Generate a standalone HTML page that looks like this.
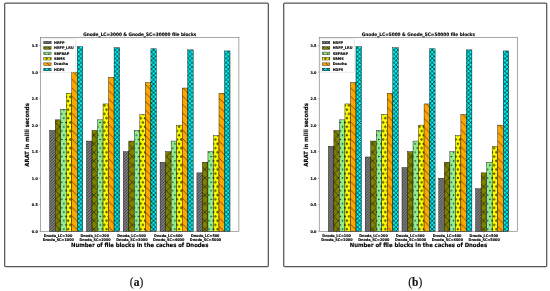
<!DOCTYPE html>
<html lang="en"><head><meta charset="utf-8"><title>ARAT comparison</title>
<style>html,body{margin:0;padding:0;background:#fff}body{width:550px;height:291px;overflow:hidden}svg{display:block}.s{font-family:"DejaVu Sans","Liberation Sans",sans-serif;font-weight:bold;fill:#000}.s text{stroke:#000;stroke-width:0.14px}.c{font-family:"Liberation Serif","DejaVu Serif",serif;fill:#111}</style></head><body>
<svg width="550" height="291" viewBox="0 0 550 291">
<defs>
<pattern id="pg" patternUnits="userSpaceOnUse" x="8.36" y="7.16" width="8.54" height="8.54">
<rect width="8.54" height="8.54" fill="#808080"/>
<path d="M-8.54 0L17.08 -25.62M-8.54 2.847L17.08 -22.773M-8.54 5.693L17.08 -19.927M-8.54 8.54L17.08 -17.08M-8.54 11.387L17.08 -14.233M-8.54 14.233L17.08 -11.387M-8.54 17.08L17.08 -8.54M-8.54 19.927L17.08 -5.693M-8.54 22.773L17.08 -2.847M-8.54 25.62L17.08 0" stroke="#000" stroke-width="0.5" fill="none"/>
</pattern>
<pattern id="po" patternUnits="userSpaceOnUse" x="8.36" y="7.16" width="8.54" height="8.54">
<rect width="8.54" height="8.54" fill="#808000"/>
<path d="M-8.54 0L17.08 -25.62M-8.54 8.54L17.08 -17.08M-8.54 17.08L17.08 -8.54M-8.54 25.62L17.08 0M-8.54 -25.62L17.08 0M-8.54 -17.08L17.08 8.54M-8.54 -8.54L17.08 17.08M-8.54 0L17.08 25.62M-8.54 8.54L17.08 34.16" stroke="#000" stroke-width="0.5" fill="none"/>
</pattern>
<pattern id="pn" patternUnits="userSpaceOnUse" x="8.36" y="7.16" width="8.54" height="8.54">
<rect width="8.54" height="8.54" fill="#90ee90"/>
<g fill="#000"><circle cx="0" cy="0" r="0.75"/><circle cx="4.27" cy="0" r="0.75"/><circle cx="8.54" cy="0" r="0.75"/><circle cx="0" cy="8.54" r="0.75"/><circle cx="4.27" cy="8.54" r="0.75"/><circle cx="8.54" cy="8.54" r="0.75"/><circle cx="2.135" cy="4.27" r="0.75"/><circle cx="6.405" cy="4.27" r="0.75"/></g>
</pattern>
<pattern id="py" patternUnits="userSpaceOnUse" x="8.36" y="7.16" width="8.54" height="8.54">
<rect width="8.54" height="8.54" fill="#ffff00"/>
<g fill="none" stroke="#000" stroke-width="0.8"><circle cx="0" cy="0" r="0.8"/><circle cx="4.27" cy="0" r="0.8"/><circle cx="8.54" cy="0" r="0.8"/><circle cx="0" cy="8.54" r="0.8"/><circle cx="4.27" cy="8.54" r="0.8"/><circle cx="8.54" cy="8.54" r="0.8"/><circle cx="2.135" cy="4.27" r="0.8"/><circle cx="6.405" cy="4.27" r="0.8"/></g>
</pattern>
<pattern id="pr" patternUnits="userSpaceOnUse" x="8.36" y="7.16" width="8.54" height="8.54">
<rect width="8.54" height="8.54" fill="#ffa500"/>
<path d="M-8.54 -25.62L17.08 0M-8.54 -17.08L17.08 8.54M-8.54 -8.54L17.08 17.08M-8.54 0L17.08 25.62M-8.54 8.54L17.08 34.16" stroke="#000" stroke-width="0.5" fill="none"/>
</pattern>
<pattern id="pc" patternUnits="userSpaceOnUse" x="8.36" y="7.16" width="8.54" height="8.54">
<rect width="8.54" height="8.54" fill="#00ffff"/>
<path d="M-8.54 0L17.08 -25.62M-8.54 4.27L17.08 -21.35M-8.54 8.54L17.08 -17.08M-8.54 12.81L17.08 -12.81M-8.54 17.08L17.08 -8.54M-8.54 21.35L17.08 -4.27M-8.54 25.62L17.08 0M-8.54 -25.62L17.08 0M-8.54 -21.35L17.08 4.27M-8.54 -17.08L17.08 8.54M-8.54 -12.81L17.08 12.81M-8.54 -8.54L17.08 17.08M-8.54 -4.27L17.08 21.35M-8.54 0L17.08 25.62M-8.54 4.27L17.08 29.89M-8.54 8.54L17.08 34.16" stroke="#000" stroke-width="0.75" fill="none"/>
</pattern>
</defs>
<rect width="550" height="291" fill="#fff"/>
<rect x="4.65" y="3.2" width="263.7" height="263.3" rx="0.9" fill="#fff" stroke="#575757" stroke-width="1.25"/>
<g class="s" transform="translate(0,0)">
<rect x="49.67" y="130.45" width="5.52" height="100.75" fill="url(#pg)" stroke="#000" stroke-width="0.4"/>
<rect x="55.19" y="119.85" width="5.52" height="111.35" fill="url(#po)" stroke="#000" stroke-width="0.4"/>
<rect x="60.71" y="109.24" width="5.52" height="121.96" fill="url(#pn)" stroke="#000" stroke-width="0.4"/>
<rect x="66.23" y="93.34" width="5.52" height="137.86" fill="url(#py)" stroke="#000" stroke-width="0.4"/>
<rect x="71.75" y="72.13" width="5.52" height="159.07" fill="url(#pr)" stroke="#000" stroke-width="0.4"/>
<rect x="77.27" y="46.68" width="5.52" height="184.52" fill="url(#pc)" stroke="#000" stroke-width="0.4"/>
<rect x="86.48" y="141.06" width="5.52" height="90.14" fill="url(#pg)" stroke="#000" stroke-width="0.4"/>
<rect x="92.00" y="130.45" width="5.52" height="100.75" fill="url(#po)" stroke="#000" stroke-width="0.4"/>
<rect x="97.52" y="119.85" width="5.52" height="111.35" fill="url(#pn)" stroke="#000" stroke-width="0.4"/>
<rect x="103.04" y="103.94" width="5.52" height="127.26" fill="url(#py)" stroke="#000" stroke-width="0.4"/>
<rect x="108.56" y="77.43" width="5.52" height="153.77" fill="url(#pr)" stroke="#000" stroke-width="0.4"/>
<rect x="114.08" y="47.74" width="5.52" height="183.46" fill="url(#pc)" stroke="#000" stroke-width="0.4"/>
<rect x="123.29" y="151.66" width="5.52" height="79.54" fill="url(#pg)" stroke="#000" stroke-width="0.4"/>
<rect x="128.81" y="141.06" width="5.52" height="90.14" fill="url(#po)" stroke="#000" stroke-width="0.4"/>
<rect x="134.33" y="130.45" width="5.52" height="100.75" fill="url(#pn)" stroke="#000" stroke-width="0.4"/>
<rect x="139.85" y="114.55" width="5.52" height="116.65" fill="url(#py)" stroke="#000" stroke-width="0.4"/>
<rect x="145.37" y="82.73" width="5.52" height="148.47" fill="url(#pr)" stroke="#000" stroke-width="0.4"/>
<rect x="150.89" y="48.80" width="5.52" height="182.40" fill="url(#pc)" stroke="#000" stroke-width="0.4"/>
<rect x="160.09" y="162.27" width="5.52" height="68.93" fill="url(#pg)" stroke="#000" stroke-width="0.4"/>
<rect x="165.62" y="151.66" width="5.52" height="79.54" fill="url(#po)" stroke="#000" stroke-width="0.4"/>
<rect x="171.14" y="141.06" width="5.52" height="90.14" fill="url(#pn)" stroke="#000" stroke-width="0.4"/>
<rect x="176.66" y="125.15" width="5.52" height="106.05" fill="url(#py)" stroke="#000" stroke-width="0.4"/>
<rect x="182.18" y="88.03" width="5.52" height="143.17" fill="url(#pr)" stroke="#000" stroke-width="0.4"/>
<rect x="187.70" y="49.86" width="5.52" height="181.34" fill="url(#pc)" stroke="#000" stroke-width="0.4"/>
<rect x="196.90" y="172.87" width="5.52" height="58.33" fill="url(#pg)" stroke="#000" stroke-width="0.4"/>
<rect x="202.43" y="162.27" width="5.52" height="68.93" fill="url(#po)" stroke="#000" stroke-width="0.4"/>
<rect x="207.95" y="151.66" width="5.52" height="79.54" fill="url(#pn)" stroke="#000" stroke-width="0.4"/>
<rect x="213.47" y="135.76" width="5.52" height="95.44" fill="url(#py)" stroke="#000" stroke-width="0.4"/>
<rect x="218.99" y="93.34" width="5.52" height="137.86" fill="url(#pr)" stroke="#000" stroke-width="0.4"/>
<rect x="224.51" y="50.92" width="5.52" height="180.28" fill="url(#pc)" stroke="#000" stroke-width="0.4"/>
<rect x="40.5" y="37.45" width="198.4" height="193.8" fill="none" stroke="#000" stroke-opacity="0.62" stroke-width="0.55"/>
<path d="M39.00 231.20H40.5" stroke="#000" stroke-opacity="0.6" stroke-width="0.4"/>
<text transform="translate(37.80,232.85) scale(0.92,1)" font-size="3.696" text-anchor="end">0.0</text>
<path d="M39.00 204.69H40.5" stroke="#000" stroke-opacity="0.6" stroke-width="0.4"/>
<text transform="translate(37.80,206.34) scale(0.92,1)" font-size="3.696" text-anchor="end">0.5</text>
<path d="M39.00 178.18H40.5" stroke="#000" stroke-opacity="0.6" stroke-width="0.4"/>
<text transform="translate(37.80,179.83) scale(0.92,1)" font-size="3.696" text-anchor="end">1.0</text>
<path d="M39.00 151.66H40.5" stroke="#000" stroke-opacity="0.6" stroke-width="0.4"/>
<text transform="translate(37.80,153.31) scale(0.92,1)" font-size="3.696" text-anchor="end">1.5</text>
<path d="M39.00 125.15H40.5" stroke="#000" stroke-opacity="0.6" stroke-width="0.4"/>
<text transform="translate(37.80,126.80) scale(0.92,1)" font-size="3.696" text-anchor="end">2.0</text>
<path d="M39.00 98.64H40.5" stroke="#000" stroke-opacity="0.6" stroke-width="0.4"/>
<text transform="translate(37.80,100.29) scale(0.92,1)" font-size="3.696" text-anchor="end">2.5</text>
<path d="M39.00 72.13H40.5" stroke="#000" stroke-opacity="0.6" stroke-width="0.4"/>
<text transform="translate(37.80,73.78) scale(0.92,1)" font-size="3.696" text-anchor="end">3.0</text>
<path d="M39.00 45.62H40.5" stroke="#000" stroke-opacity="0.6" stroke-width="0.4"/>
<text transform="translate(37.80,47.27) scale(0.92,1)" font-size="3.696" text-anchor="end">3.5</text>
<path d="M57.95 231.2v1.6" stroke="#000" stroke-opacity="0.6" stroke-width="0.4"/>
<text transform="translate(57.95,236.50) scale(0.92,1)" font-size="3.696" text-anchor="middle">Dnode_LC=100</text>
<text transform="translate(58.25,240.70) scale(0.92,1)" font-size="3.696" text-anchor="middle">Dnode_SC=1000</text>
<path d="M94.76 231.2v1.6" stroke="#000" stroke-opacity="0.6" stroke-width="0.4"/>
<text transform="translate(94.76,236.50) scale(0.92,1)" font-size="3.696" text-anchor="middle">Dnode_LC=200</text>
<text transform="translate(95.06,240.70) scale(0.92,1)" font-size="3.696" text-anchor="middle">Dnode_SC=2000</text>
<path d="M131.57 231.2v1.6" stroke="#000" stroke-opacity="0.6" stroke-width="0.4"/>
<text transform="translate(131.57,236.50) scale(0.92,1)" font-size="3.696" text-anchor="middle">Dnode_LC=300</text>
<text transform="translate(131.87,240.70) scale(0.92,1)" font-size="3.696" text-anchor="middle">Dnode_SC=3000</text>
<path d="M168.38 231.2v1.6" stroke="#000" stroke-opacity="0.6" stroke-width="0.4"/>
<text transform="translate(168.38,236.50) scale(0.92,1)" font-size="3.696" text-anchor="middle">Dnode_LC=400</text>
<text transform="translate(168.68,240.70) scale(0.92,1)" font-size="3.696" text-anchor="middle">Dnode_SC=4000</text>
<path d="M205.19 231.2v1.6" stroke="#000" stroke-opacity="0.6" stroke-width="0.4"/>
<text transform="translate(205.19,236.50) scale(0.92,1)" font-size="3.696" text-anchor="middle">Dnode_LC=500</text>
<text transform="translate(205.49,240.70) scale(0.92,1)" font-size="3.696" text-anchor="middle">Dnode_SC=5000</text>
<text transform="translate(139.70,35.70) scale(0.92,1)" font-size="4.63" text-anchor="middle">Gnode_LC=3000 &amp; Gnode_SC=30000 file blocks</text>
<text transform="translate(139.70,247.20) scale(0.92,1)" font-size="5.793" text-anchor="middle">Number of file blocks in the caches of Dnodes</text>
<text transform="translate(29.20,134.92) rotate(-90) scale(0.92,1)" font-size="5.761" text-anchor="middle">ARAT in milli seconds</text>
<rect x="41.5" y="38.7" width="34.2" height="33.6" rx="0.8" fill="#fff" fill-opacity="0.8" stroke="#ccc" stroke-width="0.4"/>
<rect x="43.80" y="41.30" width="7.3" height="2.5" fill="url(#pg)" stroke="#000" stroke-width="0.4"/>
<text transform="translate(54.00,43.85) scale(0.92,1)" font-size="3.75" text-anchor="start">HRFP</text>
<rect x="43.80" y="46.70" width="7.3" height="2.5" fill="url(#po)" stroke="#000" stroke-width="0.4"/>
<text transform="translate(54.00,49.25) scale(0.92,1)" font-size="3.75" text-anchor="start">HRFP_LRU</text>
<rect x="43.80" y="52.10" width="7.3" height="2.5" fill="url(#pn)" stroke="#000" stroke-width="0.4"/>
<text transform="translate(54.00,54.65) scale(0.92,1)" font-size="3.75" text-anchor="start">SBFBAP</text>
<rect x="43.80" y="57.50" width="7.3" height="2.5" fill="url(#py)" stroke="#000" stroke-width="0.4"/>
<text transform="translate(54.00,60.05) scale(0.92,1)" font-size="3.75" text-anchor="start">SBMS</text>
<rect x="43.80" y="62.90" width="7.3" height="2.5" fill="url(#pr)" stroke="#000" stroke-width="0.4"/>
<text transform="translate(54.00,65.45) scale(0.92,1)" font-size="3.75" text-anchor="start">Dcache</text>
<rect x="43.80" y="68.30" width="7.3" height="2.5" fill="url(#pc)" stroke="#000" stroke-width="0.4"/>
<text transform="translate(54.00,70.85) scale(0.92,1)" font-size="3.75" text-anchor="start">HDFS</text>
</g>
<text class="c" x="136.5" y="285.7" font-size="11.5" stroke="#111" stroke-width="0.15" text-anchor="middle">(<tspan font-weight="bold">a</tspan>)</text>
<rect x="283.7" y="3.2" width="263.0" height="263.3" rx="0.9" fill="#fff" stroke="#575757" stroke-width="1.25"/>
<g class="s" transform="translate(278.7,0)">
<rect x="49.67" y="146.36" width="5.52" height="84.84" fill="url(#pg)" stroke="#000" stroke-width="0.4"/>
<rect x="55.19" y="130.45" width="5.52" height="100.75" fill="url(#po)" stroke="#000" stroke-width="0.4"/>
<rect x="60.71" y="119.85" width="5.52" height="111.35" fill="url(#pn)" stroke="#000" stroke-width="0.4"/>
<rect x="66.23" y="103.94" width="5.52" height="127.26" fill="url(#py)" stroke="#000" stroke-width="0.4"/>
<rect x="71.75" y="82.73" width="5.52" height="148.47" fill="url(#pr)" stroke="#000" stroke-width="0.4"/>
<rect x="77.27" y="46.68" width="5.52" height="184.52" fill="url(#pc)" stroke="#000" stroke-width="0.4"/>
<rect x="86.48" y="156.97" width="5.52" height="74.23" fill="url(#pg)" stroke="#000" stroke-width="0.4"/>
<rect x="92.00" y="141.06" width="5.52" height="90.14" fill="url(#po)" stroke="#000" stroke-width="0.4"/>
<rect x="97.52" y="130.45" width="5.52" height="100.75" fill="url(#pn)" stroke="#000" stroke-width="0.4"/>
<rect x="103.04" y="114.55" width="5.52" height="116.65" fill="url(#py)" stroke="#000" stroke-width="0.4"/>
<rect x="108.56" y="93.34" width="5.52" height="137.86" fill="url(#pr)" stroke="#000" stroke-width="0.4"/>
<rect x="114.08" y="47.74" width="5.52" height="183.46" fill="url(#pc)" stroke="#000" stroke-width="0.4"/>
<rect x="123.29" y="167.57" width="5.52" height="63.63" fill="url(#pg)" stroke="#000" stroke-width="0.4"/>
<rect x="128.81" y="151.66" width="5.52" height="79.54" fill="url(#po)" stroke="#000" stroke-width="0.4"/>
<rect x="134.33" y="141.06" width="5.52" height="90.14" fill="url(#pn)" stroke="#000" stroke-width="0.4"/>
<rect x="139.85" y="125.15" width="5.52" height="106.05" fill="url(#py)" stroke="#000" stroke-width="0.4"/>
<rect x="145.37" y="103.94" width="5.52" height="127.26" fill="url(#pr)" stroke="#000" stroke-width="0.4"/>
<rect x="150.89" y="48.80" width="5.52" height="182.40" fill="url(#pc)" stroke="#000" stroke-width="0.4"/>
<rect x="160.09" y="178.18" width="5.52" height="53.02" fill="url(#pg)" stroke="#000" stroke-width="0.4"/>
<rect x="165.62" y="162.27" width="5.52" height="68.93" fill="url(#po)" stroke="#000" stroke-width="0.4"/>
<rect x="171.14" y="151.66" width="5.52" height="79.54" fill="url(#pn)" stroke="#000" stroke-width="0.4"/>
<rect x="176.66" y="135.76" width="5.52" height="95.44" fill="url(#py)" stroke="#000" stroke-width="0.4"/>
<rect x="182.18" y="114.55" width="5.52" height="116.65" fill="url(#pr)" stroke="#000" stroke-width="0.4"/>
<rect x="187.70" y="49.86" width="5.52" height="181.34" fill="url(#pc)" stroke="#000" stroke-width="0.4"/>
<rect x="196.90" y="188.78" width="5.52" height="42.42" fill="url(#pg)" stroke="#000" stroke-width="0.4"/>
<rect x="202.43" y="172.87" width="5.52" height="58.33" fill="url(#po)" stroke="#000" stroke-width="0.4"/>
<rect x="207.95" y="162.27" width="5.52" height="68.93" fill="url(#pn)" stroke="#000" stroke-width="0.4"/>
<rect x="213.47" y="146.36" width="5.52" height="84.84" fill="url(#py)" stroke="#000" stroke-width="0.4"/>
<rect x="218.99" y="125.15" width="5.52" height="106.05" fill="url(#pr)" stroke="#000" stroke-width="0.4"/>
<rect x="224.51" y="50.92" width="5.52" height="180.28" fill="url(#pc)" stroke="#000" stroke-width="0.4"/>
<rect x="40.5" y="37.45" width="198.4" height="193.8" fill="none" stroke="#000" stroke-opacity="0.62" stroke-width="0.55"/>
<path d="M39.00 231.20H40.5" stroke="#000" stroke-opacity="0.6" stroke-width="0.4"/>
<text transform="translate(37.80,232.85) scale(0.92,1)" font-size="3.696" text-anchor="end">0.0</text>
<path d="M39.00 204.69H40.5" stroke="#000" stroke-opacity="0.6" stroke-width="0.4"/>
<text transform="translate(37.80,206.34) scale(0.92,1)" font-size="3.696" text-anchor="end">0.5</text>
<path d="M39.00 178.18H40.5" stroke="#000" stroke-opacity="0.6" stroke-width="0.4"/>
<text transform="translate(37.80,179.83) scale(0.92,1)" font-size="3.696" text-anchor="end">1.0</text>
<path d="M39.00 151.66H40.5" stroke="#000" stroke-opacity="0.6" stroke-width="0.4"/>
<text transform="translate(37.80,153.31) scale(0.92,1)" font-size="3.696" text-anchor="end">1.5</text>
<path d="M39.00 125.15H40.5" stroke="#000" stroke-opacity="0.6" stroke-width="0.4"/>
<text transform="translate(37.80,126.80) scale(0.92,1)" font-size="3.696" text-anchor="end">2.0</text>
<path d="M39.00 98.64H40.5" stroke="#000" stroke-opacity="0.6" stroke-width="0.4"/>
<text transform="translate(37.80,100.29) scale(0.92,1)" font-size="3.696" text-anchor="end">2.5</text>
<path d="M39.00 72.13H40.5" stroke="#000" stroke-opacity="0.6" stroke-width="0.4"/>
<text transform="translate(37.80,73.78) scale(0.92,1)" font-size="3.696" text-anchor="end">3.0</text>
<path d="M39.00 45.62H40.5" stroke="#000" stroke-opacity="0.6" stroke-width="0.4"/>
<text transform="translate(37.80,47.27) scale(0.92,1)" font-size="3.696" text-anchor="end">3.5</text>
<path d="M57.95 231.2v1.6" stroke="#000" stroke-opacity="0.6" stroke-width="0.4"/>
<text transform="translate(57.95,236.50) scale(0.92,1)" font-size="3.696" text-anchor="middle">Dnode_LC=100</text>
<text transform="translate(58.25,240.70) scale(0.92,1)" font-size="3.696" text-anchor="middle">Dnode_SC=1000</text>
<path d="M94.76 231.2v1.6" stroke="#000" stroke-opacity="0.6" stroke-width="0.4"/>
<text transform="translate(94.76,236.50) scale(0.92,1)" font-size="3.696" text-anchor="middle">Dnode_LC=200</text>
<text transform="translate(95.06,240.70) scale(0.92,1)" font-size="3.696" text-anchor="middle">Dnode_SC=2000</text>
<path d="M131.57 231.2v1.6" stroke="#000" stroke-opacity="0.6" stroke-width="0.4"/>
<text transform="translate(131.57,236.50) scale(0.92,1)" font-size="3.696" text-anchor="middle">Dnode_LC=300</text>
<text transform="translate(131.87,240.70) scale(0.92,1)" font-size="3.696" text-anchor="middle">Dnode_SC=3000</text>
<path d="M168.38 231.2v1.6" stroke="#000" stroke-opacity="0.6" stroke-width="0.4"/>
<text transform="translate(168.38,236.50) scale(0.92,1)" font-size="3.696" text-anchor="middle">Dnode_LC=400</text>
<text transform="translate(168.68,240.70) scale(0.92,1)" font-size="3.696" text-anchor="middle">Dnode_SC=4000</text>
<path d="M205.19 231.2v1.6" stroke="#000" stroke-opacity="0.6" stroke-width="0.4"/>
<text transform="translate(205.19,236.50) scale(0.92,1)" font-size="3.696" text-anchor="middle">Dnode_LC=500</text>
<text transform="translate(205.49,240.70) scale(0.92,1)" font-size="3.696" text-anchor="middle">Dnode_SC=5000</text>
<text transform="translate(139.70,35.70) scale(0.92,1)" font-size="4.63" text-anchor="middle">Gnode_LC=5000 &amp; Gnode_SC=50000 file blocks</text>
<text transform="translate(139.70,247.20) scale(0.92,1)" font-size="5.793" text-anchor="middle">Number of file blocks in the caches of Dnodes</text>
<text transform="translate(29.20,134.92) rotate(-90) scale(0.92,1)" font-size="5.761" text-anchor="middle">ARAT in milli seconds</text>
<rect x="41.5" y="38.7" width="34.2" height="33.6" rx="0.8" fill="#fff" fill-opacity="0.8" stroke="#ccc" stroke-width="0.4"/>
<rect x="43.80" y="41.30" width="7.3" height="2.5" fill="url(#pg)" stroke="#000" stroke-width="0.4"/>
<text transform="translate(54.00,43.85) scale(0.92,1)" font-size="3.75" text-anchor="start">HRFP</text>
<rect x="43.80" y="46.70" width="7.3" height="2.5" fill="url(#po)" stroke="#000" stroke-width="0.4"/>
<text transform="translate(54.00,49.25) scale(0.92,1)" font-size="3.75" text-anchor="start">HRFP_LRU</text>
<rect x="43.80" y="52.10" width="7.3" height="2.5" fill="url(#pn)" stroke="#000" stroke-width="0.4"/>
<text transform="translate(54.00,54.65) scale(0.92,1)" font-size="3.75" text-anchor="start">SBFBAP</text>
<rect x="43.80" y="57.50" width="7.3" height="2.5" fill="url(#py)" stroke="#000" stroke-width="0.4"/>
<text transform="translate(54.00,60.05) scale(0.92,1)" font-size="3.75" text-anchor="start">SBMS</text>
<rect x="43.80" y="62.90" width="7.3" height="2.5" fill="url(#pr)" stroke="#000" stroke-width="0.4"/>
<text transform="translate(54.00,65.45) scale(0.92,1)" font-size="3.75" text-anchor="start">Dcache</text>
<rect x="43.80" y="68.30" width="7.3" height="2.5" fill="url(#pc)" stroke="#000" stroke-width="0.4"/>
<text transform="translate(54.00,70.85) scale(0.92,1)" font-size="3.75" text-anchor="start">HDFS</text>
</g>
<text class="c" x="415.2" y="285.7" font-size="11.5" stroke="#111" stroke-width="0.15" text-anchor="middle">(<tspan font-weight="bold">b</tspan>)</text>
</svg></body></html>
